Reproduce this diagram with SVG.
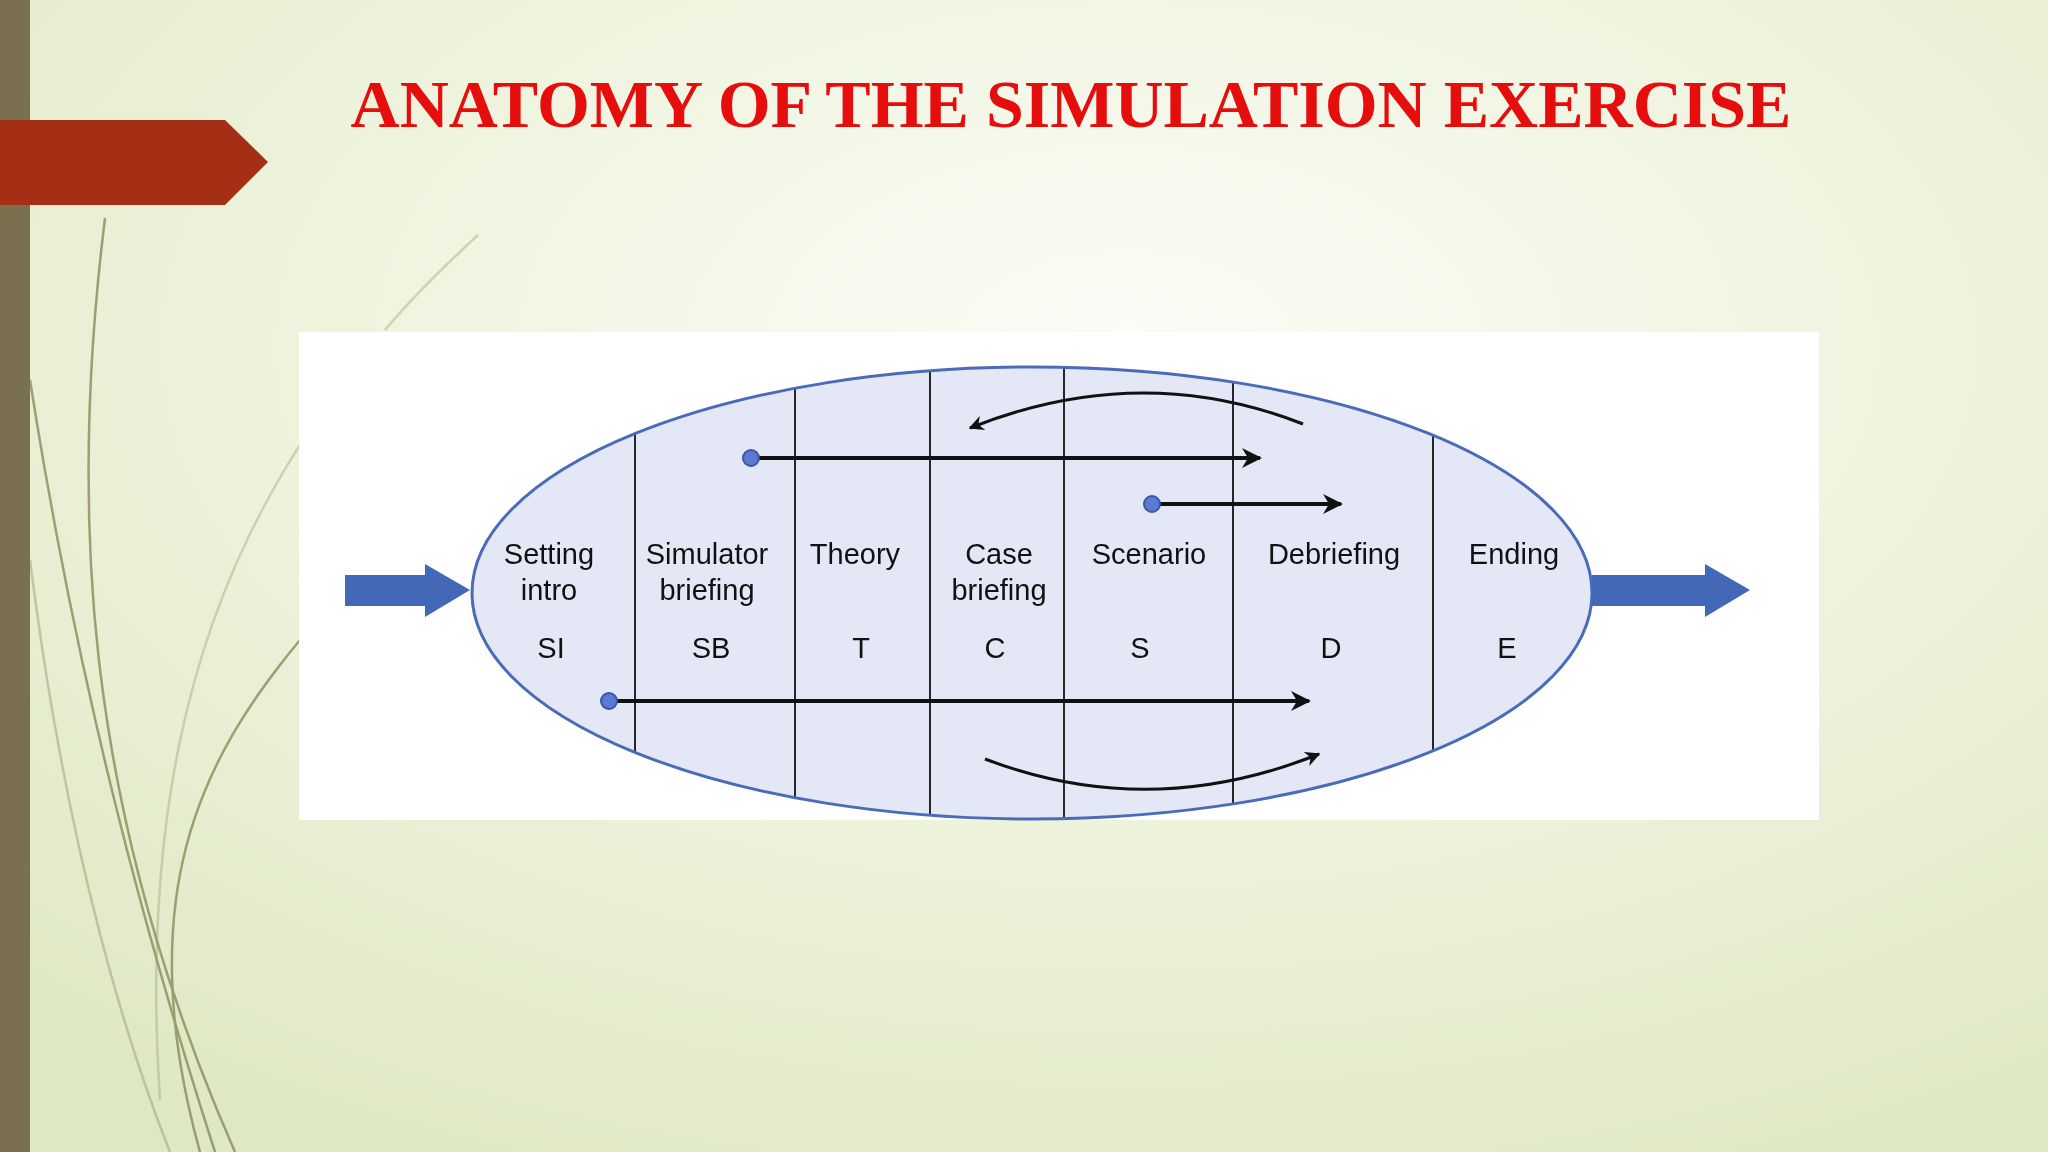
<svg xmlns="http://www.w3.org/2000/svg" width="2048" height="1152" viewBox="0 0 2048 1152">
<defs>
<radialGradient id="bg" cx="0.55" cy="0.3" r="0.8">
<stop offset="0" stop-color="#fbfcf6"/><stop offset="0.5" stop-color="#eef3dd"/><stop offset="1" stop-color="#dfe8c4"/>
</radialGradient>
<marker id="ah" viewBox="0 0 10 10" refX="9" refY="5" markerWidth="5" markerHeight="5" orient="auto"><path d="M0,0 L10,5 L0,10 L3,5 Z" fill="#111"/></marker>
<clipPath id="ec"><ellipse cx="1032" cy="593" rx="560" ry="226"/></clipPath>
<style>
.lbl{font-family:"Liberation Sans",Arial,sans-serif;font-size:29px;fill:#111;text-anchor:middle}
.vl{stroke:#111;stroke-width:1.8}
.ar{stroke:#111;stroke-width:4;fill:none;marker-end:url(#ah)}
.cv{stroke:#111;stroke-width:3;fill:none;marker-end:url(#ah)}
.dot{fill:#5b7bd0;stroke:#3a56a8;stroke-width:2}
</style>
</defs>
<rect width="2048" height="1152" fill="url(#bg)"/>
<g fill="none" stroke="#8a8a5a" stroke-width="2.5" opacity="0.8">
<path d="M105,218 C70,500 80,800 235,1152"/>
<path d="M30,380 C80,700 150,950 215,1152"/>
<path d="M300,640 C200,760 130,900 200,1152"/>
<path d="M30,560 C60,800 110,1000 170,1152" opacity="0.5"/>
<path d="M300,445 C200,600 140,800 160,1100" opacity="0.4"/>
<path d="M478,235 C440,270 410,300 385,330" opacity="0.4"/>
</g>
<rect x="0" y="0" width="30" height="1152" fill="#7a7050"/>
<path d="M0,120 L225,120 L268,162 L225,205 L0,205 Z" fill="#a52f14"/>
<text x="1071" y="127" font-family="Liberation Serif,serif" font-weight="bold" font-size="68" fill="#e60d0d" text-anchor="middle">ANATOMY OF THE SIMULATION EXERCISE</text>
<rect x="299" y="332" width="1520" height="488" fill="#fff"/>
<g id="ellipse">
<ellipse cx="1032" cy="593" rx="560" ry="226" fill="#e4e7f5"/>
<g clip-path="url(#ec)">
<line class="vl" x1="635" y1="360" x2="635" y2="830"/>
<line class="vl" x1="795" y1="360" x2="795" y2="830"/>
<line class="vl" x1="930" y1="360" x2="930" y2="830"/>
<line class="vl" x1="1064" y1="360" x2="1064" y2="830"/>
<line class="vl" x1="1233" y1="360" x2="1233" y2="830"/>
<line class="vl" x1="1433" y1="360" x2="1433" y2="830"/>
</g>
<ellipse cx="1032" cy="593" rx="560" ry="226" fill="none" stroke="#4a6cb8" stroke-width="3"/>
</g>
<g id="n-si"><text class="lbl" x="549" y="564">Setting</text><text class="lbl" x="549" y="600">intro</text><text class="lbl" x="551" y="658">SI</text></g>
<g id="n-sb"><text class="lbl" x="707" y="564">Simulator</text><text class="lbl" x="707" y="600">briefing</text><text class="lbl" x="711" y="658">SB</text></g>
<g id="n-t"><text class="lbl" x="855" y="564">Theory</text><text class="lbl" x="861" y="658">T</text></g>
<g id="n-c"><text class="lbl" x="999" y="564">Case</text><text class="lbl" x="999" y="600">briefing</text><text class="lbl" x="995" y="658">C</text></g>
<g id="n-s"><text class="lbl" x="1149" y="564">Scenario</text><text class="lbl" x="1140" y="658">S</text></g>
<g id="n-d"><text class="lbl" x="1334" y="564">Debriefing</text><text class="lbl" x="1331" y="658">D</text></g>
<g id="n-e"><text class="lbl" x="1514" y="564">Ending</text><text class="lbl" x="1507" y="658">E</text></g>
<g id="connectors">
<path d="M345,575 L425,575 L425,564 L470,590 L425,617 L425,606 L345,606 Z" fill="#4468b8"/>
<path d="M1592,575 L1705,575 L1705,564 L1750,590 L1705,617 L1705,606 L1592,606 Z" fill="#4468b8"/>
<line class="ar" x1="751" y1="458" x2="1260" y2="458"/>
<circle class="dot" cx="751" cy="458" r="8"/>
<line class="ar" x1="1152" y1="504" x2="1341" y2="504"/>
<circle class="dot" cx="1152" cy="504" r="8"/>
<line class="ar" x1="609" y1="701" x2="1309" y2="701"/>
<circle class="dot" cx="609" cy="701" r="8"/>
<path class="cv" d="M1303,424 Q1140,360 970,428"/>
<path class="cv" d="M985,759 Q1150,822 1319,754"/>
</g>
</svg>
